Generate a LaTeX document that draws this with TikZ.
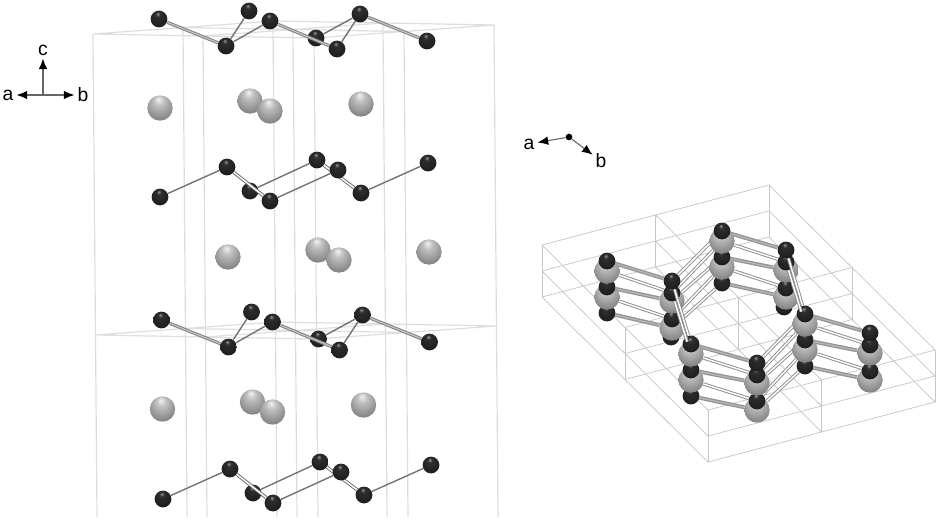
\documentclass[tikz,border=0pt]{standalone}
\usepackage{fontspec}
\setmainfont{Liberation Sans}
\usetikzlibrary{arrows.meta,backgrounds}
\pgfdeclareradialshading{darkball}{\pgfpoint{-4bp}{16bp}}{color(0bp)=(black!40); color(7bp)=(black!82); color(28bp)=(black!88); color(50bp)=(black)}
\pgfdeclareradialshading{greyball}{\pgfpoint{-3bp}{18bp}}{color(0bp)=(black!5); color(10bp)=(black!25); color(32bp)=(black!50); color(50bp)=(black!70)}
\tikzset{
  darkatom/.style={circle,inner sep=0pt,minimum size=12.6pt,shading=darkball},
  greyatom/.style={circle,inner sep=0pt,minimum size=19pt,shading=greyball},
  originatom/.style={circle,inner sep=0pt,minimum size=5pt,fill=black},
  cellline/.style={draw=black!13,line width=0.9pt},
  gridline/.style={draw=black!22,line width=0.55pt},
  thinbond/.style={draw=black!55,line width=1.05pt},
  thickbond/.style={draw=black!48,line width=0.8pt,double=black!22,double distance=0.8pt},
  whitebond/.style={draw=black!58,line width=0.7pt,double=white,double distance=1.1pt},
  railbond/.style={draw=black!42,line width=1pt,double=black!28,double distance=0.9pt},
  rungbond/.style={draw=black!45,line width=0.7pt,double=white,double distance=1.1pt},
  axisline/.style={draw=black!60,line width=0.8pt,shorten >=1pt,-{Latex[black,length=8pt,width=6.5pt]}},
  axislabel/.style={inner sep=1.2pt,font=\fontsize{14.5}{16}\selectfont},
}
\begin{document}
\begin{tikzpicture}[x=0.75pt,y=-0.75pt]
    \useasboundingbox (0,0) rectangle (940,521);
    % unit cells, left
    \begin{scope}[on background layer]
    \foreach \dx/\dy in {0/0,2.5/301} {
        \draw[cellline] (93+\dx,34+\dy) -- (273+\dx,21+\dy) -- (494+\dx,25+\dy) -- (314+\dx,38+\dy) -- cycle;
        \draw[cellline] (183+\dx,27.5+\dy) -- (404+\dx,31.5+\dy);
        \draw[cellline] (203+\dx,36+\dy) -- (383+\dx,23+\dy);
    }
    \foreach \x/\y in {93/34,183/27.5,203/36,273/21,293/29.5,314/38,383/23,404/31.5,494/25}
        \draw[cellline] (\x,\y) -- (\x+4,517);
    % unit cells, right
    \foreach \lev in {0,26,52} {
        \foreach \t in {0,0.5,1} {
            \draw[gridline] (542+166*\t,245+165*\t+\lev) -- (769+166*\t,185+165*\t+\lev);
            \draw[gridline] (542+227*\t,245-60*\t+\lev) -- (708+227*\t,410-60*\t+\lev);
        }
    }
    \foreach \s in {0,0.5,1} {
        \foreach \t in {0,0.5,1}
            \draw[gridline] (542+227*\s+166*\t,245-60*\s+165*\t) -- (542+227*\s+166*\t,297-60*\s+165*\t);
    }
    \end{scope}
    % axes
    \coordinate (sideorg) at (43,95);
    \node[axislabel] (sidec) at (43,50) {c};
    \node[axislabel] (sidea) at (8,95) {a};
    \node[axislabel] (sideb) at (83,95) {b};
    \draw[axisline] (sideorg) -- (sidec);
    \draw[axisline] (sideorg) -- (sidea);
    \draw[axisline] (sideorg) -- (sideb);
    \node[originatom] (toporg) at (569,137) {};
    \node[axislabel] (topa) at (529,144) {a};
    \node[axislabel] (topb) at (601,161) {b};
    \draw[axisline] (toporg) -- (topa);
    \draw[axisline] (toporg) -- (topb);
    % grey atoms, side view
    \foreach \lay/\dx/\dy in {p/0/0,q/2.5/301} {
        \node[greyatom] (\lay1) at (160+\dx,108+\dy) {};
        \node[greyatom] (\lay2) at (250+\dx,101+\dy) {};
        \node[greyatom] (\lay3) at (270+\dx,111+\dy) {};
        \node[greyatom] (\lay4) at (361+\dx,104+\dy) {};
    }
    \node[greyatom] (r1) at (228,257) {};
    \node[greyatom] (r2) at (318,250) {};
    \node[greyatom] (r3) at (339,260) {};
    \node[greyatom] (r4) at (429,252) {};
    % puckered layers, side view
    \foreach \lay/\dx/\dy in {t/0/0,v/2.5/301} {
        \node[darkatom] (\lay e) at (316+\dx,38+\dy) {};
        \node[darkatom] (\lay c) at (249+\dx,11+\dy) {};
        \node[darkatom] (\lay a) at (159+\dx,19+\dy) {};
        \node[darkatom] (\lay b) at (226+\dx,46+\dy) {};
        \node[darkatom] (\lay d) at (270+\dx,21+\dy) {};
        \node[darkatom] (\lay f) at (337+\dx,49+\dy) {};
        \node[darkatom] (\lay g) at (360+\dx,14+\dy) {};
        \node[darkatom] (\lay h) at (427+\dx,41+\dy) {};
        \draw[thickbond] (\lay a) -- (\lay b);
        \draw[thinbond] (\lay b) -- (\lay c);
        \draw[thinbond] (\lay b) -- (\lay d);
        \draw[thickbond] (\lay d) -- (\lay f);
        \draw[thinbond] (\lay e) -- (\lay g);
        \draw[thinbond] (\lay f) -- (\lay g);
        \draw[thickbond] (\lay g) -- (\lay h);
    }
    \foreach \lay/\dx/\dy in {u/0/0,w/3/302} {
        \node[darkatom] (\lay c) at (250+\dx,191+\dy) {};
        \node[darkatom] (\lay e) at (317+\dx,160+\dy) {};
        \node[darkatom] (\lay g) at (361+\dx,193+\dy) {};
        \draw[whitebond] (\lay e) -- (\lay g);
        \node[darkatom] (\lay a) at (160+\dx,197+\dy) {};
        \node[darkatom] (\lay b) at (227+\dx,167+\dy) {};
        \node[darkatom] (\lay d) at (270+\dx,201+\dy) {};
        \node[darkatom] (\lay f) at (338+\dx,170+\dy) {};
        \node[darkatom] (\lay h) at (428+\dx,163+\dy) {};
        \draw[thinbond] (\lay a) -- (\lay b);
        \draw[whitebond] (\lay b) -- (\lay d);
        \draw[thinbond] (\lay c) -- (\lay e);
        \draw[thinbond] (\lay d) -- (\lay f);
        \draw[thinbond] (\lay g) -- (\lay h);
    }
    % stacked columns, top view
    \node[darkatom] (Bd4) at (671,337) {};
    \node[darkatom] (Dd4) at (784,307) {};
    \foreach \col/\x/\y in {A/607/261,C/722/231,E/691/344,G/805/314} {
        \node[darkatom] (\col d3) at (\x,\y+52) {};
        \node[greyatom] (\col g2) at (\x,\y+36) {};
        \node[darkatom] (\col d2) at (\x,\y+26) {};
        \node[greyatom] (\col g1) at (\x,\y+10) {};
        \node[darkatom] (\col d1) at (\x,\y) {};
    }
    \foreach \col/\x/\y in {B/672/281,D/786/250,F/757/363,H/870/333} {
        \node[greyatom] (\col g2) at (\x,\y+47) {};
        \node[darkatom] (\col d3) at (\x,\y+38) {};
        \node[greyatom] (\col g1) at (\x,\y+20) {};
        \node[darkatom] (\col d2) at (\x,\y+12) {};
        \node[darkatom] (\col d1) at (\x,\y) {};
    }
    \begin{scope}[on background layer]
    \foreach \p/\q in {A/B,C/D,E/F,G/H} {
        \draw[railbond] (\p d1) -- (\q d1);
        \draw[rungbond] (\p g1) -- (\q d2);
        \draw[railbond] (\p d2) -- (\q g1);
        \draw[rungbond] (\p g2) -- (\q d3);
        \draw[railbond] (\p d3) -- (\q g2);
    }
    \foreach \p/\q in {B/C,F/G} {
        \draw[rungbond] (\p d1) -- (\q d1);
        \draw[rungbond] (\p d2) -- (\q g1);
        \draw[rungbond] (\p g1) -- (\q d2);
        \draw[rungbond] (\p d3) -- (\q g2);
        \draw[rungbond] (\p g2) -- (\q d3);
    }
    \end{scope}
    \foreach \p/\q in {B/E,D/G} {
        \draw[rungbond] (\p d2) -- (\q g1);
        \draw[rungbond] (\p d1) -- (\q d1);
    }
\end{tikzpicture}
\end{document}
